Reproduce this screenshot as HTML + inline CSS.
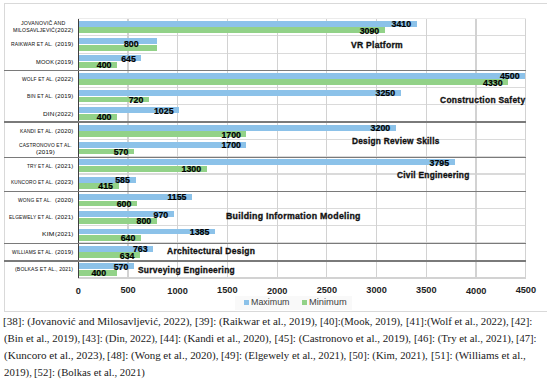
<!DOCTYPE html><html><head><meta charset="utf-8"><style>
html,body{margin:0;padding:0;background:#fff;width:550px;height:383px;overflow:hidden;position:relative}
.a{position:absolute}.t{position:absolute;white-space:pre;transform-origin:0 0;font-family:"Liberation Sans",sans-serif}
.sf{font-family:"Liberation Serif",serif}
</style></head><body>
<div class="a" style="left:4px;top:3px;width:543px;height:1px;background:#d9d9d9"></div>
<div class="a" style="left:4px;top:310.5px;width:543px;height:1px;background:#d9d9d9"></div>
<div class="a" style="left:4px;top:3px;width:1px;height:308.5px;background:#d9d9d9"></div>
<div class="a" style="left:78.3px;top:18px;width:447.98px;height:1.2px;background:#ebebeb"></div>
<div class="a" style="left:78.3px;top:35.26px;width:447.98px;height:1.2px;background:#dadada"></div>
<div class="a" style="left:78.3px;top:52.52px;width:447.98px;height:1.2px;background:#dadada"></div>
<div class="a" style="left:78.3px;top:69.78px;width:447.98px;height:1.2px;background:#dadada"></div>
<div class="a" style="left:78.3px;top:87.04px;width:447.98px;height:1.2px;background:#dadada"></div>
<div class="a" style="left:78.3px;top:104.3px;width:447.98px;height:1.2px;background:#dadada"></div>
<div class="a" style="left:78.3px;top:121.56px;width:447.98px;height:1.2px;background:#dadada"></div>
<div class="a" style="left:78.3px;top:138.82px;width:447.98px;height:1.2px;background:#dadada"></div>
<div class="a" style="left:78.3px;top:156.08px;width:447.98px;height:1.2px;background:#dadada"></div>
<div class="a" style="left:78.3px;top:173.34px;width:447.98px;height:1.2px;background:#dadada"></div>
<div class="a" style="left:78.3px;top:190.6px;width:447.98px;height:1.2px;background:#dadada"></div>
<div class="a" style="left:78.3px;top:207.86px;width:447.98px;height:1.2px;background:#dadada"></div>
<div class="a" style="left:78.3px;top:225.12px;width:447.98px;height:1.2px;background:#dadada"></div>
<div class="a" style="left:78.3px;top:242.38px;width:447.98px;height:1.2px;background:#dadada"></div>
<div class="a" style="left:78.3px;top:259.64px;width:447.98px;height:1.2px;background:#dadada"></div>
<div class="a" style="left:78.3px;top:277.4px;width:447.98px;height:1.2px;background:#d2d2d2"></div>
<div class="a" style="left:127.42px;top:18.6px;width:1.2px;height:258.9px;background:#d2d2d2"></div>
<div class="a" style="left:177.14px;top:18.6px;width:1.2px;height:258.9px;background:#d2d2d2"></div>
<div class="a" style="left:226.86px;top:18.6px;width:1.2px;height:258.9px;background:#d2d2d2"></div>
<div class="a" style="left:276.58px;top:18.6px;width:1.2px;height:258.9px;background:#d2d2d2"></div>
<div class="a" style="left:326.3px;top:18.6px;width:1.2px;height:258.9px;background:#d2d2d2"></div>
<div class="a" style="left:376.02px;top:18.6px;width:1.2px;height:258.9px;background:#d2d2d2"></div>
<div class="a" style="left:425.74px;top:18.6px;width:1.2px;height:258.9px;background:#d2d2d2"></div>
<div class="a" style="left:475.46px;top:18.6px;width:1.2px;height:258.9px;background:#d2d2d2"></div>
<div class="a" style="left:525.18px;top:18.6px;width:1.2px;height:258.9px;background:#d2d2d2"></div>
<div class="a" style="left:78.5px;top:20.84px;width:338.06px;height:5.95px;background:#8cc2e9"></div>
<div class="a" style="left:78.5px;top:27.44px;width:306.22px;height:5.75px;background:#92d288"></div>
<div class="a" style="left:78.5px;top:38.15px;width:78.39px;height:5.95px;background:#8cc2e9"></div>
<div class="a" style="left:78.5px;top:44.75px;width:78.39px;height:5.75px;background:#92d288"></div>
<div class="a" style="left:78.5px;top:55.46px;width:62.97px;height:5.95px;background:#8cc2e9"></div>
<div class="a" style="left:78.5px;top:62.06px;width:38.6px;height:5.75px;background:#92d288"></div>
<div class="a" style="left:78.5px;top:72.77px;width:446.5px;height:5.95px;background:#8cc2e9"></div>
<div class="a" style="left:78.5px;top:79.37px;width:429.59px;height:5.75px;background:#92d288"></div>
<div class="a" style="left:78.5px;top:90.08px;width:322.14px;height:5.95px;background:#8cc2e9"></div>
<div class="a" style="left:78.5px;top:96.68px;width:70.43px;height:5.75px;background:#92d288"></div>
<div class="a" style="left:78.5px;top:107.39px;width:100.78px;height:5.95px;background:#8cc2e9"></div>
<div class="a" style="left:78.5px;top:113.99px;width:38.6px;height:5.75px;background:#92d288"></div>
<div class="a" style="left:78.5px;top:124.7px;width:317.17px;height:5.95px;background:#8cc2e9"></div>
<div class="a" style="left:78.5px;top:131.3px;width:167.93px;height:5.75px;background:#92d288"></div>
<div class="a" style="left:78.5px;top:142.01px;width:167.93px;height:5.95px;background:#8cc2e9"></div>
<div class="a" style="left:78.5px;top:148.61px;width:55.51px;height:5.75px;background:#92d288"></div>
<div class="a" style="left:78.5px;top:159.32px;width:376.36px;height:5.95px;background:#8cc2e9"></div>
<div class="a" style="left:78.5px;top:165.92px;width:128.14px;height:5.75px;background:#92d288"></div>
<div class="a" style="left:78.5px;top:176.63px;width:57px;height:5.95px;background:#8cc2e9"></div>
<div class="a" style="left:78.5px;top:183.23px;width:40.09px;height:5.75px;background:#92d288"></div>
<div class="a" style="left:78.5px;top:193.94px;width:113.71px;height:5.95px;background:#8cc2e9"></div>
<div class="a" style="left:78.5px;top:200.54px;width:58.49px;height:5.75px;background:#92d288"></div>
<div class="a" style="left:78.5px;top:211.25px;width:95.31px;height:5.95px;background:#8cc2e9"></div>
<div class="a" style="left:78.5px;top:217.85px;width:78.39px;height:5.75px;background:#92d288"></div>
<div class="a" style="left:78.5px;top:228.56px;width:136.59px;height:5.95px;background:#8cc2e9"></div>
<div class="a" style="left:78.5px;top:235.16px;width:62.47px;height:5.75px;background:#92d288"></div>
<div class="a" style="left:78.5px;top:245.87px;width:74.71px;height:5.95px;background:#8cc2e9"></div>
<div class="a" style="left:78.5px;top:252.47px;width:61.88px;height:5.75px;background:#92d288"></div>
<div class="a" style="left:78.5px;top:263.18px;width:55.51px;height:5.95px;background:#8cc2e9"></div>
<div class="a" style="left:78.5px;top:269.78px;width:38.6px;height:5.75px;background:#92d288"></div>
<div class="a" style="left:77.5px;top:18.6px;width:1.6px;height:259.5px;background:#3f3f3f"></div>
<div class="a" style="left:4px;top:69.75px;width:521.98px;height:1.5px;background:#7a7a7a"></div>
<div class="a" style="left:4px;top:121.15px;width:521.98px;height:1.5px;background:#7a7a7a"></div>
<div class="a" style="left:4px;top:156.65px;width:521.98px;height:1.5px;background:#7a7a7a"></div>
<div class="a" style="left:4px;top:190.65px;width:521.98px;height:1.5px;background:#7a7a7a"></div>
<div class="a" style="left:4px;top:242.65px;width:521.98px;height:1.5px;background:#7a7a7a"></div>
<div class="a" style="left:4px;top:260.45px;width:521.98px;height:1.5px;background:#7a7a7a"></div>
<div class="a" style="left:235px;top:296px;width:117px;height:13.5px;background:#f9f9f9"></div>
<div class="a" style="left:244.4px;top:300.4px;width:4.5px;height:4.6px;background:#8cc2e9"></div>
<div class="a" style="left:302px;top:300.4px;width:4.5px;height:4.6px;background:#92d288"></div>
<div class="t" style="left:21.2px;top:21.1px;font-size:5.9px;line-height:5.9px;letter-spacing:0.2px;-webkit-text-stroke:0.06px #202020;color:#202020;transform:scaleX(0.8889);">JOVANOVIČ AND</div>
<div class="t" style="left:12.87px;top:28.2px;font-size:5.9px;line-height:5.9px;letter-spacing:0.2px;-webkit-text-stroke:0.06px #202020;color:#202020;transform:scaleX(0.8674);">MILOSAVLJEVIĆ</div>
<div class="t" style="left:55.35px;top:28.2px;font-size:5.9px;line-height:5.9px;letter-spacing:0.2px;-webkit-text-stroke:0.06px #202020;color:#202020;transform:scaleX(1.0057);">(2022)</div>
<div class="t" style="left:391.51px;top:20.2px;font-size:8.8px;line-height:8.8px;font-weight:700;-webkit-text-stroke:0.22px #000000;color:#000000;">3410</div>
<div class="t" style="left:359.67px;top:26.7px;font-size:8.8px;line-height:8.8px;font-weight:700;-webkit-text-stroke:0.22px #000000;color:#000000;">3090</div>
<div class="t" style="left:11.38px;top:42.1px;font-size:5.9px;line-height:5.9px;letter-spacing:0.2px;-webkit-text-stroke:0.06px #202020;color:#202020;transform:scaleX(0.8456);">RAIKWAR ET AL.</div>
<div class="t" style="left:55.05px;top:42.1px;font-size:5.9px;line-height:5.9px;letter-spacing:0.2px;-webkit-text-stroke:0.06px #202020;color:#202020;transform:scaleX(1.0057);">(2019)</div>
<div class="t" style="left:123.95px;top:40.49px;font-size:8.8px;line-height:8.8px;font-weight:700;-webkit-text-stroke:0.22px #000000;color:#000000;">800</div>
<div class="t" style="left:36.32px;top:59.55px;font-size:5.9px;line-height:5.9px;letter-spacing:0.2px;-webkit-text-stroke:0.06px #202020;color:#202020;transform:scaleX(0.9667);">MOOK</div>
<div class="t" style="left:55.05px;top:59.55px;font-size:5.9px;line-height:5.9px;letter-spacing:0.2px;-webkit-text-stroke:0.06px #202020;color:#202020;transform:scaleX(1.0057);">(2019)</div>
<div class="t" style="left:121.17px;top:54.82px;font-size:8.8px;line-height:8.8px;font-weight:700;-webkit-text-stroke:0.22px #000000;color:#000000;">645</div>
<div class="t" style="left:96.8px;top:61.32px;font-size:8.8px;line-height:8.8px;font-weight:700;-webkit-text-stroke:0.22px #000000;color:#000000;">400</div>
<div class="t" style="left:21.5px;top:76.7px;font-size:5.9px;line-height:5.9px;letter-spacing:0.2px;-webkit-text-stroke:0.06px #202020;color:#202020;transform:scaleX(0.8238);">WOLF ET AL.</div>
<div class="t" style="left:55.05px;top:76.7px;font-size:5.9px;line-height:5.9px;letter-spacing:0.2px;-webkit-text-stroke:0.06px #202020;color:#202020;transform:scaleX(1.0057);">(2022)</div>
<div class="t" style="left:499.96px;top:72.13px;font-size:8.8px;line-height:8.8px;font-weight:700;-webkit-text-stroke:0.22px #000000;color:#000000;">4500</div>
<div class="t" style="left:483.04px;top:78.63px;font-size:8.8px;line-height:8.8px;font-weight:700;-webkit-text-stroke:0.22px #000000;color:#000000;">4330</div>
<div class="t" style="left:27.18px;top:94.35px;font-size:5.9px;line-height:5.9px;letter-spacing:0.2px;-webkit-text-stroke:0.06px #202020;color:#202020;transform:scaleX(0.8333);">BIN ET AL.</div>
<div class="t" style="left:55.05px;top:94.35px;font-size:5.9px;line-height:5.9px;letter-spacing:0.2px;-webkit-text-stroke:0.06px #202020;color:#202020;transform:scaleX(1.0057);">(2019)</div>
<div class="t" style="left:375.59px;top:89.44px;font-size:8.8px;line-height:8.8px;font-weight:700;-webkit-text-stroke:0.22px #000000;color:#000000;">3250</div>
<div class="t" style="left:128.63px;top:95.94px;font-size:8.8px;line-height:8.8px;font-weight:700;-webkit-text-stroke:0.22px #000000;color:#000000;">720</div>
<div class="t" style="left:43.06px;top:111.8px;font-size:5.9px;line-height:5.9px;letter-spacing:0.2px;-webkit-text-stroke:0.06px #202020;color:#202020;transform:scaleX(1.0872);">DIN</div>
<div class="t" style="left:55.05px;top:111.8px;font-size:5.9px;line-height:5.9px;letter-spacing:0.2px;-webkit-text-stroke:0.06px #202020;color:#202020;transform:scaleX(1.0057);">(2022)</div>
<div class="t" style="left:153.98px;top:106.75px;font-size:8.8px;line-height:8.8px;font-weight:700;-webkit-text-stroke:0.22px #000000;color:#000000;">1025</div>
<div class="t" style="left:96.8px;top:113.25px;font-size:8.8px;line-height:8.8px;font-weight:700;-webkit-text-stroke:0.22px #000000;color:#000000;">400</div>
<div class="t" style="left:20.08px;top:128.85px;font-size:5.9px;line-height:5.9px;letter-spacing:0.2px;-webkit-text-stroke:0.06px #202020;color:#202020;transform:scaleX(0.8338);">KANDI ET AL.</div>
<div class="t" style="left:55.05px;top:128.85px;font-size:5.9px;line-height:5.9px;letter-spacing:0.2px;-webkit-text-stroke:0.06px #202020;color:#202020;transform:scaleX(1.0057);">(2020)</div>
<div class="t" style="left:370.62px;top:124.06px;font-size:8.8px;line-height:8.8px;font-weight:700;-webkit-text-stroke:0.22px #000000;color:#000000;">3200</div>
<div class="t" style="left:221.38px;top:130.56px;font-size:8.8px;line-height:8.8px;font-weight:700;-webkit-text-stroke:0.22px #000000;color:#000000;">1700</div>
<div class="t" style="left:18.6px;top:142.7px;font-size:5.9px;line-height:5.9px;letter-spacing:0.2px;-webkit-text-stroke:0.06px #202020;color:#202020;transform:scaleX(0.8173);">CASTRONOVO ET AL.</div>
<div class="t" style="left:35.74px;top:149.65px;font-size:5.9px;line-height:5.9px;letter-spacing:0.2px;-webkit-text-stroke:0.06px #202020;color:#202020;transform:scaleX(1.0400);">(2019)</div>
<div class="t" style="left:221.38px;top:141.37px;font-size:8.8px;line-height:8.8px;font-weight:700;-webkit-text-stroke:0.22px #000000;color:#000000;">1700</div>
<div class="t" style="left:113.71px;top:147.87px;font-size:8.8px;line-height:8.8px;font-weight:700;-webkit-text-stroke:0.22px #000000;color:#000000;">570</div>
<div class="t" style="left:27px;top:163.6px;font-size:5.9px;line-height:5.9px;letter-spacing:0.2px;-webkit-text-stroke:0.06px #202020;color:#202020;transform:scaleX(0.7938);">TRY ET AL.</div>
<div class="t" style="left:55.05px;top:163.6px;font-size:5.9px;line-height:5.9px;letter-spacing:0.2px;-webkit-text-stroke:0.06px #202020;color:#202020;transform:scaleX(1.0057);">(2021)</div>
<div class="t" style="left:429.56px;top:158.68px;font-size:8.8px;line-height:8.8px;font-weight:700;-webkit-text-stroke:0.22px #000000;color:#000000;">3795</div>
<div class="t" style="left:181.59px;top:165.18px;font-size:8.8px;line-height:8.8px;font-weight:700;-webkit-text-stroke:0.22px #000000;color:#000000;">1300</div>
<div class="t" style="left:10.9px;top:180.35px;font-size:5.9px;line-height:5.9px;letter-spacing:0.2px;-webkit-text-stroke:0.06px #202020;color:#202020;transform:scaleX(0.8098);">KUNCORO ET AL.</div>
<div class="t" style="left:55.05px;top:180.35px;font-size:5.9px;line-height:5.9px;letter-spacing:0.2px;-webkit-text-stroke:0.06px #202020;color:#202020;transform:scaleX(1.0057);">(2023)</div>
<div class="t" style="left:115.2px;top:175.99px;font-size:8.8px;line-height:8.8px;font-weight:700;-webkit-text-stroke:0.22px #000000;color:#000000;">585</div>
<div class="t" style="left:98.29px;top:182.49px;font-size:8.8px;line-height:8.8px;font-weight:700;-webkit-text-stroke:0.22px #000000;color:#000000;">415</div>
<div class="t" style="left:18.3px;top:198.35px;font-size:5.9px;line-height:5.9px;letter-spacing:0.2px;-webkit-text-stroke:0.06px #202020;color:#202020;transform:scaleX(0.8277);">WONG ET AL.</div>
<div class="t" style="left:55.05px;top:198.35px;font-size:5.9px;line-height:5.9px;letter-spacing:0.2px;-webkit-text-stroke:0.06px #202020;color:#202020;transform:scaleX(1.0057);">(2020)</div>
<div class="t" style="left:167.41px;top:193.3px;font-size:8.8px;line-height:8.8px;font-weight:700;-webkit-text-stroke:0.22px #000000;color:#000000;">1155</div>
<div class="t" style="left:116.69px;top:199.8px;font-size:8.8px;line-height:8.8px;font-weight:700;-webkit-text-stroke:0.22px #000000;color:#000000;">600</div>
<div class="t" style="left:8.99px;top:214.85px;font-size:5.9px;line-height:5.9px;letter-spacing:0.2px;-webkit-text-stroke:0.06px #202020;color:#202020;transform:scaleX(0.8151);">ELGEWELY ET AL.</div>
<div class="t" style="left:55.05px;top:214.85px;font-size:5.9px;line-height:5.9px;letter-spacing:0.2px;-webkit-text-stroke:0.06px #202020;color:#202020;transform:scaleX(1.0057);">(2021)</div>
<div class="t" style="left:153.51px;top:210.61px;font-size:8.8px;line-height:8.8px;font-weight:700;-webkit-text-stroke:0.22px #000000;color:#000000;">970</div>
<div class="t" style="left:136.59px;top:217.11px;font-size:8.8px;line-height:8.8px;font-weight:700;-webkit-text-stroke:0.22px #000000;color:#000000;">800</div>
<div class="t" style="left:42.23px;top:232.45px;font-size:5.9px;line-height:5.9px;letter-spacing:0.2px;-webkit-text-stroke:0.06px #202020;color:#202020;transform:scaleX(1.1400);">KIM</div>
<div class="t" style="left:55.05px;top:232.45px;font-size:5.9px;line-height:5.9px;letter-spacing:0.2px;-webkit-text-stroke:0.06px #202020;color:#202020;transform:scaleX(1.0057);">(2021)</div>
<div class="t" style="left:189.79px;top:227.92px;font-size:8.8px;line-height:8.8px;font-weight:700;-webkit-text-stroke:0.22px #000000;color:#000000;">1385</div>
<div class="t" style="left:120.67px;top:234.42px;font-size:8.8px;line-height:8.8px;font-weight:700;-webkit-text-stroke:0.22px #000000;color:#000000;">640</div>
<div class="t" style="left:12.2px;top:250.05px;font-size:5.9px;line-height:5.9px;letter-spacing:0.2px;-webkit-text-stroke:0.06px #202020;color:#202020;transform:scaleX(0.8121);">WILLIAMS ET AL.</div>
<div class="t" style="left:55.05px;top:250.05px;font-size:5.9px;line-height:5.9px;letter-spacing:0.2px;-webkit-text-stroke:0.06px #202020;color:#202020;transform:scaleX(1.0057);">(2019)</div>
<div class="t" style="left:132.91px;top:245.23px;font-size:8.8px;line-height:8.8px;font-weight:700;-webkit-text-stroke:0.22px #000000;color:#000000;">763</div>
<div class="t" style="left:119.83px;top:251.73px;font-size:8.8px;line-height:8.8px;font-weight:700;-webkit-text-stroke:0.22px #000000;color:#000000;">634</div>
<div class="t" style="left:15.08px;top:267.4px;font-size:5.9px;line-height:5.9px;letter-spacing:0.2px;-webkit-text-stroke:0.06px #202020;color:#202020;transform:scaleX(0.8632);">(BOLKAS ET AL., 2021)</div>
<div class="t" style="left:113.71px;top:262.54px;font-size:8.8px;line-height:8.8px;font-weight:700;-webkit-text-stroke:0.22px #000000;color:#000000;">570</div>
<div class="t" style="left:91.4px;top:269.04px;font-size:8.8px;line-height:8.8px;font-weight:700;-webkit-text-stroke:0.22px #000000;color:#000000;">400</div>
<div class="t" style="left:75.8px;top:286.6px;font-size:9.2px;line-height:9.2px;font-weight:700;color:#1e1e1e;">0</div>
<div class="t" style="left:120.39px;top:286.48px;font-size:9.2px;line-height:9.2px;font-weight:700;color:#1e1e1e;">500</div>
<div class="t" style="left:167.37px;top:286.6px;font-size:9.2px;line-height:9.2px;font-weight:700;color:#1e1e1e;">1000</div>
<div class="t" style="left:217.08px;top:286.48px;font-size:9.2px;line-height:9.2px;font-weight:700;color:#1e1e1e;">1500</div>
<div class="t" style="left:266.93px;top:286.6px;font-size:9.2px;line-height:9.2px;font-weight:700;color:#1e1e1e;">2000</div>
<div class="t" style="left:316.65px;top:286.48px;font-size:9.2px;line-height:9.2px;font-weight:700;color:#1e1e1e;">2500</div>
<div class="t" style="left:366.37px;top:286.48px;font-size:9.2px;line-height:9.2px;font-weight:700;color:#1e1e1e;">3000</div>
<div class="t" style="left:416.09px;top:286.48px;font-size:9.2px;line-height:9.2px;font-weight:700;color:#1e1e1e;">3500</div>
<div class="t" style="left:465.94px;top:286.6px;font-size:9.2px;line-height:9.2px;font-weight:700;color:#1e1e1e;">4000</div>
<div class="t" style="left:515.65px;top:286.48px;font-size:9.2px;line-height:9.2px;font-weight:700;color:#1e1e1e;">4500</div>
<div class="t" style="left:350.8px;top:39.86px;font-size:9.7px;line-height:9.7px;font-weight:700;letter-spacing:0.3px;-webkit-text-stroke:0.35px #111111;color:#111111;transform:scaleX(0.8845);">VR Platform</div>
<div class="t" style="left:439.78px;top:95.35px;font-size:9.7px;line-height:9.7px;font-weight:700;letter-spacing:0.3px;-webkit-text-stroke:0.35px #111111;color:#111111;transform:scaleX(0.8740);">Construction Safety</div>
<div class="t" style="left:352.07px;top:136.16px;font-size:9.7px;line-height:9.7px;font-weight:700;letter-spacing:0.3px;-webkit-text-stroke:0.35px #111111;color:#111111;transform:scaleX(0.8553);">Design Review Skills</div>
<div class="t" style="left:397.38px;top:169.95px;font-size:9.7px;line-height:9.7px;font-weight:700;letter-spacing:0.3px;-webkit-text-stroke:0.35px #111111;color:#111111;transform:scaleX(0.8614);">Civil Engineering</div>
<div class="t" style="left:225.65px;top:211.35px;font-size:9.7px;line-height:9.7px;font-weight:700;letter-spacing:0.3px;-webkit-text-stroke:0.35px #111111;color:#111111;transform:scaleX(0.9066);">Building Information Modeling</div>
<div class="t" style="left:166.68px;top:245.95px;font-size:9.7px;line-height:9.7px;font-weight:700;letter-spacing:0.3px;-webkit-text-stroke:0.35px #111111;color:#111111;transform:scaleX(0.8752);">Architectural Design</div>
<div class="t" style="left:138.08px;top:264.95px;font-size:9.7px;line-height:9.7px;font-weight:700;letter-spacing:0.3px;-webkit-text-stroke:0.35px #111111;color:#111111;transform:scaleX(0.8668);">Surveying Engineering</div>
<div class="t" style="left:251.03px;top:297.81px;font-size:8.7px;line-height:8.7px;color:#404040;transform:scaleX(1.0219);">Maximum</div>
<div class="t" style="left:308.8px;top:297.81px;font-size:8.7px;line-height:8.7px;color:#404040;transform:scaleX(1.0676);">Minimum</div>
<div class="t sf" style="left:3.25px;top:316.07px;font-size:11.0px;line-height:11.0px;color:#1a1a1a;transform:scaleX(1.0050);">[38]: (Jovanović and Milosavljević, 2022), </div>
<div class="t sf" style="left:195.16px;top:316.07px;font-size:11.0px;line-height:11.0px;color:#1a1a1a;transform:scaleX(0.9932);">[39]: (Raikwar et al., 2019), </div>
<div class="t sf" style="left:320.17px;top:316.07px;font-size:11.0px;line-height:11.0px;color:#1a1a1a;transform:scaleX(0.9705);">[40]:(Mook, 2019), </div>
<div class="t sf" style="left:405.57px;top:316.07px;font-size:11.0px;line-height:11.0px;color:#1a1a1a;transform:scaleX(0.9790);">[41]:(Wolf et al., 2022), </div>
<div class="t sf" style="left:510.85px;top:316.07px;font-size:11.0px;line-height:11.0px;color:#1a1a1a;transform:scaleX(0.9975);">[42]:</div>
<div class="t sf" style="left:3.51px;top:333.27px;font-size:11.0px;line-height:11.0px;color:#1a1a1a;transform:scaleX(0.9813);">(Bin et al., 2019), </div>
<div class="t sf" style="left:82.38px;top:333.27px;font-size:11.0px;line-height:11.0px;color:#1a1a1a;transform:scaleX(0.9646);">[43]: (Din, 2022), </div>
<div class="t sf" style="left:160.46px;top:333.27px;font-size:11.0px;line-height:11.0px;color:#1a1a1a;transform:scaleX(0.9881);">[44]: (Kandi et al., 2020), </div>
<div class="t sf" style="left:274.55px;top:333.27px;font-size:11.0px;line-height:11.0px;color:#1a1a1a;">[45]: (Castronovo et al., 2019), </div>
<div class="t sf" style="left:414.06px;top:333.27px;font-size:11.0px;line-height:11.0px;color:#1a1a1a;transform:scaleX(0.9828);">[46]: (Try et al., 2021), </div>
<div class="t sf" style="left:516.38px;top:333.27px;font-size:11.0px;line-height:11.0px;color:#1a1a1a;transform:scaleX(0.9570);">[47]:</div>
<div class="t sf" style="left:3.5px;top:349.87px;font-size:11.0px;line-height:11.0px;color:#1a1a1a;transform:scaleX(1.0077);">(Kuncoro et al., 2023), </div>
<div class="t sf" style="left:107.25px;top:349.87px;font-size:11.0px;line-height:11.0px;color:#1a1a1a;transform:scaleX(0.9966);">[48]: (Wong et al., 2020), </div>
<div class="t sf" style="left:221.46px;top:349.87px;font-size:11.0px;line-height:11.0px;color:#1a1a1a;transform:scaleX(0.9836);">[49]: (Elgewely et al., 2021), </div>
<div class="t sf" style="left:349.47px;top:349.87px;font-size:11.0px;line-height:11.0px;color:#1a1a1a;transform:scaleX(0.9677);">[50]: (Kim, 2021), </div>
<div class="t sf" style="left:430.75px;top:349.87px;font-size:11.0px;line-height:11.0px;color:#1a1a1a;transform:scaleX(1.0027);">[51]: (Williams et al.,</div>
<div class="t sf" style="left:3.51px;top:367.17px;font-size:11.0px;line-height:11.0px;color:#1a1a1a;transform:scaleX(0.9802);">2019), </div>
<div class="t sf" style="left:34.07px;top:367.17px;font-size:11.0px;line-height:11.0px;color:#1a1a1a;transform:scaleX(0.9760);">[52]: (Bolkas et al., 2021)</div>
</body></html>
